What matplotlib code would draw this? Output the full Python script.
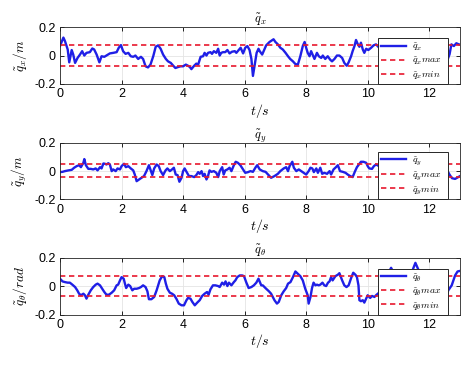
import matplotlib
matplotlib.use('Agg')
import matplotlib.pyplot as plt

plt.rcParams['font.family'] = ['Liberation Sans', 'DejaVu Sans']
plt.rcParams['mathtext.fontset'] = 'cm'

# error along x
t_x = [0, 0.11, 0.16, 0.25, 0.30, 0.38, 0.43, 0.49, 0.57, 0.65, 0.72, 0.79, 0.86, 0.97,
       1.05, 1.11, 1.19, 1.28, 1.35, 1.44, 1.51, 1.62, 1.73, 1.84, 1.91, 1.98, 2.05, 2.13,
       2.22, 2.30, 2.38, 2.45, 2.54, 2.63, 2.70, 2.78, 2.86, 2.94, 3.03, 3.11, 3.19, 3.27,
       3.35, 3.44, 3.51, 3.60, 3.68, 3.75, 3.84, 3.92, 4.00, 4.09, 4.16, 4.22, 4.27, 4.36,
       4.43, 4.49, 4.57, 4.65, 4.70, 4.76, 4.81, 4.89, 4.94, 5.00, 5.08, 5.14, 5.19, 5.24,
       5.30, 5.37, 5.44, 5.51, 5.59, 5.68, 5.73, 5.81, 5.87, 5.95, 6.02, 6.09, 6.16, 6.22,
       6.27, 6.32, 6.39, 6.45, 6.49, 6.57, 6.70, 6.81, 6.94, 7.00, 7.08, 7.16, 7.24, 7.33,
       7.41, 7.48, 7.57, 7.65, 7.73, 7.81, 7.89, 7.95, 8.00, 8.05, 8.11, 8.16, 8.22, 8.27,
       8.35, 8.41, 8.49, 8.54, 8.62, 8.70, 8.78, 8.84, 8.92, 9.00, 9.08, 9.17, 9.24, 9.32,
       9.38, 9.46, 9.51, 9.57, 9.62, 9.68, 9.73, 9.78, 9.84, 9.89, 9.95, 10.02, 10.11, 10.19,
       10.27, 10.4, 10.6, 10.8, 11.0, 11.3, 11.6, 11.9, 12.2, 12.5, 12.6, 12.66, 12.72,
       12.8, 12.88, 12.96, 13.0]
q_x = [0.068, 0.128, 0.104, 0.044, -0.047, 0.040, 0.008, -0.051, -0.016, 0.008, 0.032, 0.001,
       0.020, 0.025, 0.051, 0.044, 0.008, -0.047, -0.004, -0.008, 0.001, 0.016, 0.020, 0.025,
       0.056, 0.075, 0.032, 0.013, 0.020, -0.004, -0.008, 0.001, -0.023, -0.008, -0.023,
       -0.075, -0.083, -0.063, -0.004, 0.063, 0.073, 0.049, 0.008, -0.023, -0.040, -0.051,
       -0.071, -0.087, -0.080, -0.075, -0.075, -0.063, -0.071, -0.080, -0.095, -0.071,
       -0.056, -0.063, -0.008, -0.004, 0.020, 0.001, 0.020, 0.025, 0.013, 0.032, 0.020,
       0.049, 0.001, 0.020, 0.025, 0.025, 0.040, 0.016, 0.028, 0.032, 0.020, 0.040, 0.056,
       0.016, 0.056, 0.068, 0.040, -0.023, -0.143, -0.075, 0.020, 0.049, 0.032, 0.008,
       0.073, 0.097, 0.116, 0.097, 0.080, 0.056, 0.044, 0.020, -0.004, -0.023, -0.040,
       -0.059, -0.063, -0.004, 0.068, 0.097, 0.056, 0.020, -0.004, 0.032, 0.001, -0.023,
       0.020, -0.004, -0.016, 0.001, -0.023, -0.004, -0.028, -0.040, -0.023, 0.001, 0.001,
       -0.016, -0.051, -0.071, -0.047, -0.004, 0.032, 0.068, 0.111, 0.080, 0.063, 0.092,
       0.044, 0.020, 0.049, 0.040, 0.056, 0.073, 0.080, 0.05, 0.02, 0.06, 0.0, 0.03, -0.02,
       0.04, 0.01, 0.05, -0.025, 0.01, 0.08, 0.068, 0.088, 0.08, 0.078]

# error along y
t_y = [0, 0.08, 0.16, 0.27, 0.38, 0.46, 0.54, 0.62, 0.68, 0.76, 0.79, 0.84, 0.92, 1.00,
       1.08, 1.16, 1.22, 1.30, 1.35, 1.41, 1.46, 1.51, 1.57, 1.62, 1.68, 1.73, 1.81, 1.87,
       1.95, 2.00, 2.08, 2.14, 2.22, 2.30, 2.38, 2.43, 2.49, 2.57, 2.65, 2.73, 2.81, 2.89,
       2.95, 3.00, 3.06, 3.14, 3.21, 3.27, 3.35, 3.43, 3.49, 3.57, 3.64, 3.70, 3.76, 3.82,
       3.88, 3.95, 4.00, 4.05, 4.13, 4.19, 4.27, 4.36, 4.43, 4.49, 4.54, 4.60, 4.65, 4.70,
       4.76, 4.81, 4.86, 4.92, 5.00, 5.08, 5.14, 5.19, 5.27, 5.32, 5.37, 5.44, 5.51, 5.57,
       5.65, 5.71, 5.78, 5.86, 5.95, 6.02, 6.11, 6.19, 6.27, 6.36, 6.41, 6.49, 6.59, 6.68,
       6.76, 6.86, 6.97, 7.08, 7.16, 7.27, 7.35, 7.41, 7.46, 7.55, 7.60, 7.68, 7.76, 7.84,
       7.92, 8.00, 8.08, 8.14, 8.20, 8.25, 8.33, 8.38, 8.46, 8.52, 8.59, 8.68, 8.76, 8.81,
       8.89, 8.95, 9.03, 9.10, 9.19, 9.28, 9.35, 9.43, 9.51, 9.59, 9.65, 9.73, 9.78, 9.86,
       9.95, 10.00, 10.05, 10.14, 10.20, 10.27, 10.5, 10.8, 11.1, 11.4, 11.7, 12.0, 12.3,
       12.6, 12.66, 12.74, 12.84, 12.92, 13.0]
q_y = [-0.007, -0.005, 0.0, 0.005, 0.009, 0.024, 0.035, 0.042, 0.028, 0.059, 0.085, 0.042,
       0.016, 0.016, 0.012, 0.019, 0.005, 0.028, 0.019, 0.054, 0.052, 0.047, 0.056, 0.047,
       0.0, 0.012, 0.0, 0.019, 0.012, 0.035, 0.052, 0.028, 0.035, 0.019, 0.005, -0.024,
       -0.071, -0.059, -0.047, -0.035, 0.0, 0.042, 0.005, -0.028, 0.019, 0.047, 0.035, 0.0,
       -0.028, 0.005, 0.019, 0.0, 0.012, 0.024, -0.024, -0.028, -0.075, -0.047, 0.0, 0.019,
       -0.012, -0.035, -0.035, -0.042, -0.028, -0.007, -0.019, 0.0, -0.035, -0.019, -0.059,
       -0.035, 0.005, -0.005, 0.0, -0.012, -0.042, 0.0, 0.028, -0.024, 0.005, 0.012, 0.024,
       0.0, 0.042, 0.066, 0.059, 0.042, 0.012, -0.012, -0.007, 0.0, -0.005, 0.028, 0.042,
       0.012, 0.0, -0.005, -0.024, -0.047, -0.035, -0.019, 0.0, 0.019, 0.028, 0.0, 0.035,
       0.066, 0.024, 0.0, 0.012, 0.0, -0.012, -0.024, 0.0, 0.024, 0.019, -0.007, 0.019,
       -0.012, 0.024, -0.019, -0.012, -0.019, 0.0, -0.024, 0.012, 0.024, 0.042, 0.0, -0.005,
       -0.012, -0.024, -0.035, -0.042, 0.0, 0.028, 0.052, 0.066, 0.066, 0.059, 0.035, 0.019,
       0.016, 0.035, 0.047, 0.02, -0.01, 0.03, 0.0, 0.02, -0.01, 0.02, 0.0, -0.025, -0.05,
       -0.055, -0.045, -0.035]

# heading error
t_th = [0, 0.08, 0.16, 0.25, 0.32, 0.40, 0.49, 0.56, 0.62, 0.68, 0.76, 0.81, 0.86, 0.92,
        1.00, 1.08, 1.16, 1.22, 1.30, 1.37, 1.44, 1.51, 1.59, 1.68, 1.76, 1.84, 1.89, 1.95,
        2.00, 2.07, 2.11, 2.15, 2.22, 2.28, 2.35, 2.41, 2.49, 2.57, 2.63, 2.70, 2.78, 2.84,
        2.89, 2.97, 3.06, 3.14, 3.19, 3.24, 3.32, 3.39, 3.44, 3.49, 3.57, 3.64, 3.71, 3.78,
        3.86, 3.95, 4.03, 4.11, 4.16, 4.24, 4.30, 4.38, 4.46, 4.54, 4.62, 4.70, 4.78, 4.83,
        4.89, 4.97, 5.05, 5.14, 5.19, 5.27, 5.33, 5.38, 5.44, 5.49, 5.57, 5.65, 5.70, 5.76,
        5.84, 5.92, 5.98, 6.05, 6.13, 6.22, 6.30, 6.38, 6.45, 6.54, 6.59, 6.70, 6.79, 6.86,
        6.97, 7.05, 7.11, 7.19, 7.27, 7.35, 7.41, 7.49, 7.57, 7.65, 7.73, 7.81, 7.89, 7.97,
        8.05, 8.08, 8.14, 8.19, 8.24, 8.30, 8.35, 8.41, 8.46, 8.53, 8.59, 8.65, 8.71, 8.76,
        8.81, 8.86, 8.95, 9.03, 9.08, 9.17, 9.24, 9.31, 9.38, 9.46, 9.53, 9.60, 9.65, 9.70,
        9.73, 9.78, 9.84, 9.89, 9.95, 10.00, 10.08, 10.14, 10.22, 10.27, 10.4, 10.55, 10.76,
        10.95, 11.2, 11.4, 11.55, 11.7, 11.9, 12.2, 12.45, 12.54, 12.62, 12.73, 12.84, 12.92,
        13.0]
q_th = [0.053, 0.034, 0.029, 0.025, 0.025, 0.011, -0.006, -0.029, -0.053, -0.064, -0.053,
        -0.064, -0.088, -0.060, -0.029, -0.006, 0.011, 0.018, 0.006, -0.018, -0.041, -0.060,
        -0.060, -0.046, -0.029, 0.006, 0.011, 0.041, 0.064, 0.053, 0.018, -0.013, 0.011,
        0.001, -0.029, -0.018, -0.018, -0.013, -0.006, 0.006, -0.006, -0.036, -0.092, -0.092,
        -0.076, -0.029, 0.006, 0.041, 0.071, 0.064, 0.018, -0.018, -0.046, -0.053, -0.064,
        -0.088, -0.123, -0.135, -0.135, -0.099, -0.083, -0.088, -0.111, -0.135, -0.116,
        -0.099, -0.069, -0.053, -0.041, -0.060, -0.022, 0.006, 0.006, 0.001, -0.006, 0.025,
        0.011, 0.034, 0.001, 0.025, 0.006, 0.029, 0.041, 0.064, 0.076, 0.076, 0.071, 0.029,
        -0.013, -0.006, 0.006, 0.025, 0.053, 0.006, 0.006, -0.018, -0.036, -0.053, -0.099,
        -0.123, -0.111, -0.064, -0.036, -0.013, 0.018, 0.029, 0.064, 0.104, 0.088, 0.071,
        0.041, -0.018, -0.064, -0.123, -0.076, -0.013, 0.025, 0.006, 0.011, 0.006, 0.011,
        0.025, 0.006, 0.001, 0.025, 0.034, 0.064, 0.041, 0.071, 0.081, 0.092, 0.041, 0.006,
        -0.006, 0.006, 0.057, 0.095, 0.081, 0.064, 0.006, -0.099, -0.106, -0.099, -0.116,
        -0.088, -0.064, -0.083, -0.069, -0.076, -0.064, -0.04, 0.04, 0.13, 0.05, 0.0, 0.08,
        0.165, 0.09, 0.02, -0.03, -0.07, -0.075, -0.029, 0.006, 0.076, 0.104, 0.108]

bounds_x = (0.075, -0.070)
bounds_y = (0.048, -0.043)
bounds_th = (0.070, -0.070)

panels = [
    (t_x, q_x, bounds_x, 'x', r'$\tilde{q}_x/m$'),
    (t_y, q_y, bounds_y, 'y', r'$\tilde{q}_y/m$'),
    (t_th, q_th, bounds_th, r'\theta', r'$\tilde{q}_\theta/rad$'),
]

fig = plt.figure(figsize=(4.74, 3.70), dpi=100)
tops = [0.926, 0.614, 0.303]
for (t, q, (hi, lo), sub, ylab), top in zip(panels, tops):
    ax = fig.add_axes([0.1266, top - 0.153, 0.8439, 0.153])
    ax.plot(t, q, color='#1f1fe6', lw=1.7, label=r'$\tilde{q}_%s$' % sub)
    ax.axhline(hi, color='#e8182e', ls=(0, (3.2, 2.2)), lw=1.2, label=r'$\tilde{q}_%s max$' % sub)
    ax.axhline(lo, color='#e8182e', ls=(0, (3.2, 2.2)), lw=1.2, label=r'$\tilde{q}_%s min$' % sub)
    ax.set_xlim(0, 13)
    ax.set_ylim(-0.2, 0.2)
    ax.set_xticks([0, 2, 4, 6, 8, 10, 12])
    ax.set_yticks([-0.2, 0, 0.2])
    ax.set_yticklabels(['-0.2', '0', '0.2'])
    ax.grid(True, color='#e4e4e4', lw=0.6)
    ax.set_axisbelow(True)
    ax.tick_params(direction='in', length=3, width=0.6, labelsize=9,
                   top=True, right=True, pad=3)
    for s in ax.spines.values():
        s.set_linewidth(0.6)
        s.set_color('#262626')
    ax.set_title(r'$\tilde{q}_%s$' % sub, fontsize=9, pad=3)
    ax.set_xlabel(r'$t/s$', fontsize=10, labelpad=1)
    ax.set_ylabel(ylab, fontsize=9.5, labelpad=4)
    leg = ax.legend(loc='lower left', bbox_to_anchor=(0.795, 0.0, 0.175, 0.79),
                    mode='expand', fontsize=7, fancybox=False, framealpha=1,
                    edgecolor='#262626', handlelength=2.6, handletextpad=0.6,
                    labelspacing=0.2, borderpad=0.3, borderaxespad=0.0)
    leg.get_frame().set_linewidth(0.7)

fig.savefig('out.png', dpi=100)
